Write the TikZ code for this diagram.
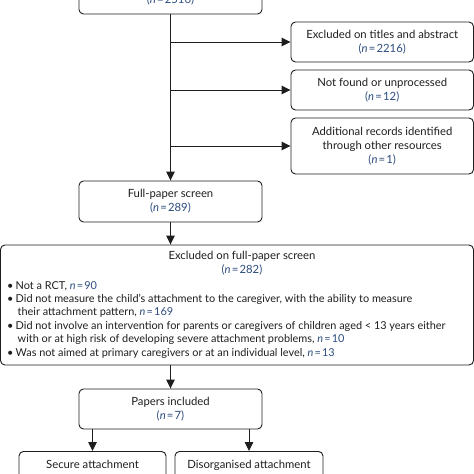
\documentclass[tikz,border=0pt]{standalone}
\usepackage{fontspec}
\setmainfont{Lato}
\usetikzlibrary{arrows.meta}
\definecolor{nblue}{HTML}{2C4C7E}
\definecolor{ink}{HTML}{1E1E1E}
\newcommand{\nval}[1]{\textcolor{nblue}{(\textit{n}\hspace{1.2pt}=\hspace{1.2pt}#1)}}
\newcommand{\nlst}[1]{\textcolor{nblue}{\textit{n}\hspace{1.2pt}=\hspace{1.2pt}#1}}
\newcommand{\bul}{\makebox[8.5pt][l]{\textbullet}}
\begin{document}
\begin{tikzpicture}[x=1pt,y=-1pt,
  font=\fontsize{11.3}{14}\selectfont, text=ink,
  box/.style={draw=ink, line width=0.9pt, rounded corners=4.5pt, inner sep=0pt, align=center},
  arr/.style={draw=ink, line width=0.9pt, -{Triangle[length=9pt,width=8.5pt]}}]
\useasboundingbox (0,0) rectangle (474,474);
\clip (0,0) rectangle (474,474);
\node[box, minimum width=183, minimum height=41] (search) at (170.5,-6.5) {\phantom{X}\\\nval{2516}};
\node[box, minimum width=182.5, minimum height=40] (ex1) at (382.25,42) {Excluded on titles and abstract\\\nval{2216}};
\node[box, minimum width=182.5, minimum height=40] (ex2) at (382.25,90) {Not found or unprocessed\\\nval{12}};
\node[box, minimum width=182.5, minimum height=56] (add) at (382.25,146) {Additional records identified\\through other resources\\\nval{1}};
\node[box, minimum width=183, minimum height=41] (full) at (170.5,201.5) {Full-paper screen\\\nval{289}};
\node[box, minimum width=473, minimum height=120] (excl) at (237,305) {};
\node[align=center, inner sep=0pt] (exclt) at (242,263) {Excluded on full-paper screen\\\nval{282}};
\node[align=left, inner sep=0pt, anchor=north west, font=\fontsize{10.9}{13.4}\selectfont] (lst) at (7,281) {%
\bul Not a RCT, \nlst{90}\\
\bul Did not measure the child's attachment to the caregiver, with the ability to measure\\
\hspace*{10.5pt}their attachment pattern, \nlst{169}\\
\bul Did not involve an intervention for parents or caregivers of children aged < 13 years either\\
\hspace*{10.5pt}with or at high risk of developing severe attachment problems, \nlst{10}\\
\bul Was not aimed at primary caregivers or at an individual level, \nlst{13}};
\node[box, minimum width=183, minimum height=40] (papers) at (170.5,409) {Papers included\\\nval{7}};
\node[box, minimum width=147, minimum height=40, anchor=north] (secure) at (92.5,451) {Secure attachment\\\mbox{}};
\node[box, minimum width=148, minimum height=40, anchor=north] (dis) at (249,451) {Disorganised attachment\\\mbox{}};
\draw[arr] (search.south) -- (full.north);
\draw[arr] (search.south |- ex1.west) -- (ex1.west);
\draw[arr] (search.south |- ex2.west) -- (ex2.west);
\draw[arr] (search.south |- add.west) -- (add.west);
\draw[arr] (full.south) -- (full.south |- excl.north);
\draw[arr] (papers.north |- excl.south) -- (papers.north);
\draw[arr] (papers.south -| secure.north) -- (secure.north);
\draw[arr] (papers.south -| dis.north) -- (dis.north);
\end{tikzpicture}
\end{document}
